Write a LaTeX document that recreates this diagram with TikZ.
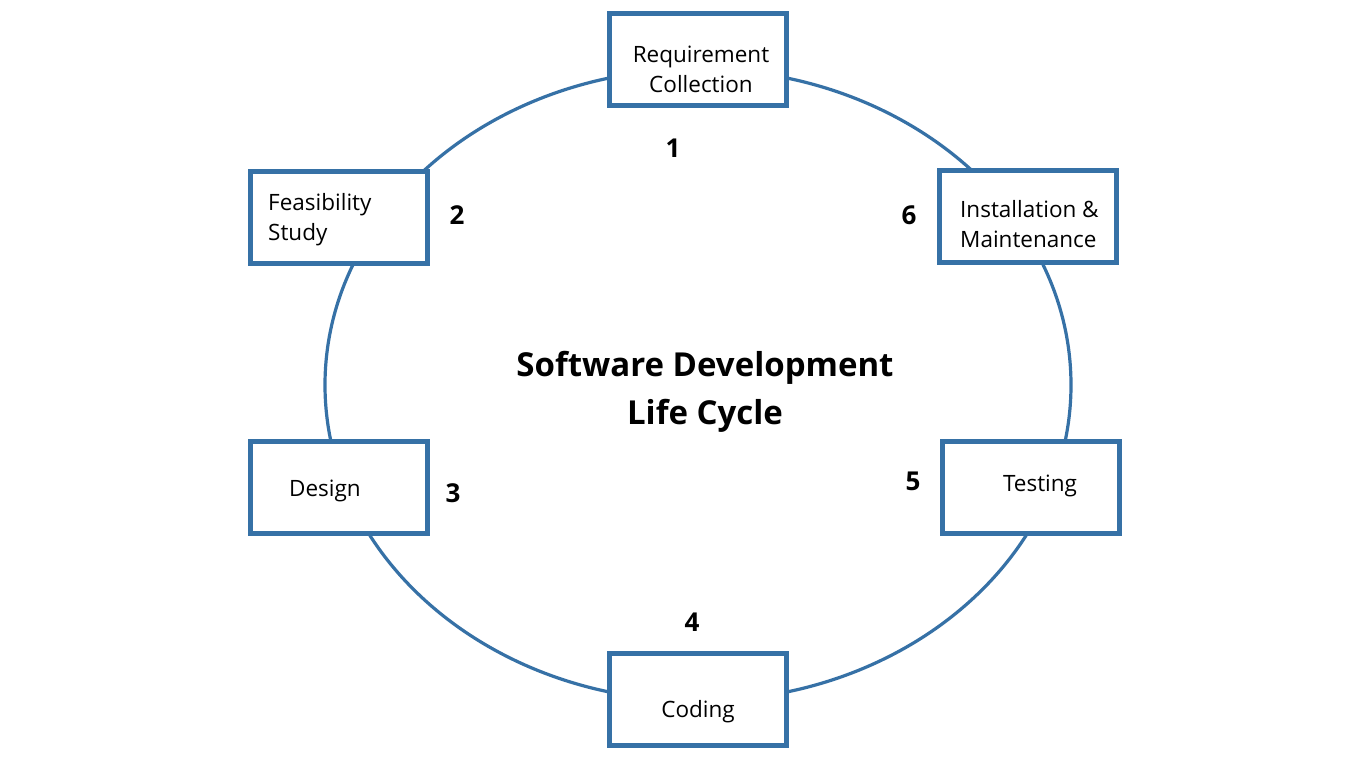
\documentclass[tikz,border=0pt]{standalone}
\usepackage{fontspec}
\setmainfont{Open Sans}
\usetikzlibrary{shapes.geometric}
\definecolor{cycblue}{RGB}{54,113,166}
\begin{document}
\begin{tikzpicture}[x=1pt,y=-1pt,
  stage/.style={draw=cycblue,line width=5pt,fill=white,minimum width=177pt,minimum height=92pt,inner sep=0pt},
  lbl/.style={font=\fontsize{22.5}{30}\selectfont,align=center,inner sep=0pt},
  num/.style={font=\fontsize{26}{28}\selectfont\bfseries,inner sep=0pt}]
\useasboundingbox (0,0) rectangle (1366,768);
\fill[white] (0,0) rectangle (1366,768);
\node[draw=cycblue,line width=3.2pt,ellipse,minimum width=746pt,minimum height=632pt,inner sep=0pt] (cyc) at (698,385) {};
\node[stage] (s1) at (698,59.5) {};
\node[stage] (s2) at (339,217.5) {};
\node[stage] (s3) at (339,487.5) {};
\node[stage] (s4) at (698,699) {};
\node[stage] (s5) at (1031,487.5) {};
\node[stage] (s6) at (1028,216.5) {};
\node[lbl] (t1) at (701,69) {Requirement\\Collection};
\node[lbl,align=left,anchor=west] (t2) at (268,219.5) {Feasibility\\Study};
\node[lbl] (t3) at (325,490.5) {Design};
\node[lbl] (t4) at (698,711.5) {Coding};
\node[lbl] (t5) at (1040,485.5) {Testing};
\node[lbl,align=left,anchor=west] (t6) at (960,224) {Installation \&\\Maintenance};
\node[num] (n1) at (673,148) {1};
\node[num] (n2) at (457,215) {2};
\node[num] (n3) at (453,493) {3};
\node[num] (n4) at (692,622) {4};
\node[num] (n5) at (913,481) {5};
\node[num] (n6) at (909,215) {6};
\node[font=\fontsize{33}{48}\selectfont\bfseries,align=center,inner sep=0pt] (title) at (705,392) {Software Development\\Life Cycle};
\end{tikzpicture}
\end{document}
